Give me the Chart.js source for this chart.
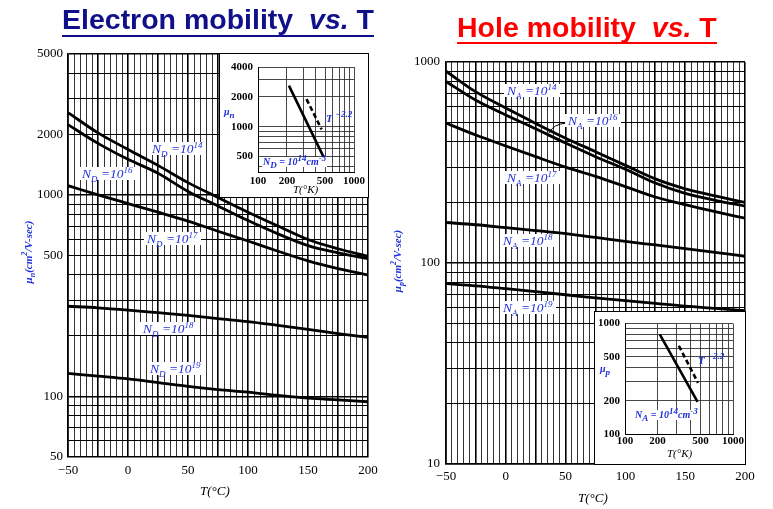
<!DOCTYPE html>
<html>
<head>
<meta charset="utf-8">
<script src="https://cdn.jsdelivr.net/npm/chart.js@4.4.1/dist/chart.umd.min.js"></script>
<style>
  html, body { margin: 0; padding: 0; background: #fff; }
  #page { position: relative; width: 773px; height: 509px; overflow: hidden; font-family: "Liberation Serif", "Times New Roman", serif; }
  canvas { position: absolute; }
  .title { position: absolute; font-family: "Liberation Sans", Arial, sans-serif; font-weight: bold; font-size: 28.5px; white-space: nowrap; }
  .title span.u { display: inline-block; line-height: 1; border-bottom: 2px solid currentColor; }
  .lbl { position: absolute; color: #1f2fd8; font-style: italic; font-size: 13.5px; line-height: 13px; background: #fff; white-space: nowrap; padding: 0 3px; }
  .lbl sub, .lbl sup, .txt sub, .txt sup { font-size: 9px; line-height: 0; }
  .txt { position: absolute; font-style: italic; white-space: nowrap; line-height: 1; }
  .inset { position: absolute; background: #fff; outline: 1px solid #000; }
  .inset canvas { left: 0; top: 0; }
  .rot { position: absolute; transform: translate(-50%, -50%) rotate(-90deg); white-space: nowrap; color: #1f2fd8; font-style: italic; font-weight: bold; font-size: 11px; line-height: 1; }
</style>
</head>
<body>
<div id="page">
  <canvas id="electron" width="386" height="509" style="left:0;top:0"></canvas>
  <canvas id="hole" width="387" height="509" style="left:386px;top:0"></canvas>

  <div class="inset" style="left:220px;top:54px;width:148px;height:143px"><canvas id="insetN" width="148" height="143"></canvas></div>
  <div class="inset" style="left:595px;top:312px;width:150px;height:152px"><canvas id="insetP" width="150" height="152"></canvas></div>

  <div class="title" style="left:62px;top:3px;color:#10108a"><span class="u" style="padding-bottom:1px">Electron mobility&nbsp; <i>vs.</i> T</span></div>
  <div class="title" style="left:457px;top:11px;color:#ff0000"><span class="u">Hole mobility&nbsp; <i>vs.</i> T</span></div>

  <!-- curve labels, electrons -->
  <div class="lbl" style="left:149px;top:142px"><i>N<sub>D</sub></i> =10<sup>14</sup></div>
  <div class="lbl" style="left:79px;top:167px"><i>N<sub>D</sub></i> =10<sup>16</sup></div>
  <div class="lbl" style="left:144px;top:232px"><i>N<sub>D</sub></i> =10<sup>17</sup></div>
  <div class="lbl" style="left:140px;top:322px"><i>N<sub>D</sub></i> =10<sup>18</sup></div>
  <div class="lbl" style="left:147px;top:362px"><i>N<sub>D</sub></i> =10<sup>19</sup></div>

  <!-- curve labels, holes -->
  <svg style="position:absolute;left:0;top:0" width="773" height="509"><path d="M549 133 Q553 124 567 123" stroke="#000" stroke-width="1" fill="none"/></svg>
  <div class="lbl" style="left:504px;top:84px"><i>N<sub>A</sub></i> =10<sup>14</sup></div>
  <div class="lbl" style="left:565px;top:114px"><i>N<sub>A</sub></i> =10<sup>16</sup></div>
  <div class="lbl" style="left:504px;top:171px"><i>N<sub>A</sub></i> =10<sup>17</sup></div>
  <div class="lbl" style="left:500px;top:234px"><i>N<sub>A</sub></i> =10<sup>18</sup></div>
  <div class="lbl" style="left:500px;top:301px"><i>N<sub>A</sub></i> =10<sup>19</sup></div>

  <!-- inset texts -->
  <div class="txt" style="left:224px;top:107px;color:#1f2fd8;font-size:10px;font-weight:bold">μ<sub>n</sub></div>
  <div class="txt" style="left:326px;top:113px;color:#1f2fd8;font-size:11px;font-weight:bold">T <sup>&minus;2.2</sup></div>
  <div class="txt" style="left:262px;top:157px;color:#1f2fd8;font-size:10px;font-weight:bold;background:#fff;padding:0 1px">N<sub>D</sub> = 10<sup>14</sup>cm<sup>-3</sup></div>
  <div class="txt" style="left:293px;top:184px;color:#000;font-size:11px">T(°K)</div>

  <div class="txt" style="left:600px;top:364px;color:#1f2fd8;font-size:10px;font-weight:bold">μ<sub>p</sub></div>
  <div class="txt" style="left:698px;top:355px;color:#1f2fd8;font-size:11px;font-weight:bold">T <sup>&minus;2.2</sup></div>
  <div class="txt" style="left:634px;top:410px;color:#1f2fd8;font-size:10px;font-weight:bold;background:#fff;padding:0 1px">N<sub>A</sub> = 10<sup>14</sup>cm<sup>-3</sup></div>
  <div class="txt" style="left:667px;top:448px;color:#000;font-size:11px">T(°K)</div>

  <!-- axis titles -->
  <div class="rot" style="left:29px;top:252px">μ<sub style="font-size:8px">n</sub>(cm<sup style="font-size:8px">2</sup>/V-sec)</div>
  <div class="rot" style="left:398px;top:261px">μ<sub style="font-size:8px">p</sub>(cm<sup style="font-size:8px">2</sup>/V-sec)</div>
  <div class="txt" style="left:200px;top:484px;font-size:13px">T(°C)</div>
  <div class="txt" style="left:578px;top:491px;font-size:13px">T(°C)</div>
</div>

<script>
// ---- values ----
const tempC = [-50, -25, 0, 25, 50, 75, 100, 125, 150, 175, 200];

// electron mobility (cm2/V-sec) for each donor concentration
const muN_ND14 = [2560, 2030, 1680, 1400, 1150, 970, 820, 700, 600, 540, 495];
const muN_ND16 = [2230, 1800, 1500, 1280, 1040, 880, 745, 640, 560, 515, 482];
const muN_ND17 = [1110, 1000, 905, 820, 740, 660, 590, 525, 470, 430, 400];
const muN_ND18 = [280, 275, 268, 260, 252, 243, 235, 225, 215, 205, 196];
const muN_ND19 = [130, 126, 122, 117, 112, 108, 105, 101, 98, 96, 94];

// hole mobility (cm2/V-sec) for each acceptor concentration
const muP_NA14 = [900, 710, 590, 495, 418, 358, 306, 262, 234, 216, 200];
const muP_NA16 = [800, 645, 545, 465, 395, 338, 293, 250, 222, 205, 192];
const muP_NA17 = [497, 433, 382, 338, 300, 270, 240, 213, 195, 180, 167];
const muP_NA18 = [159, 155, 150, 145, 140, 134, 128, 123, 118, 113, 108];
const muP_NA19 = [79, 77, 74.5, 72, 69.5, 67, 65, 63, 61, 59.5, 58];

// insets: mobility vs absolute temperature (K), N = 1e14
const insetN_T = [210, 480];
const insetN_mu = [2600, 500];
const insetN_dashT = [320, 460];
const insetN_dashMu = [1900, 940];
const insetP_T = [210, 470];
const insetP_mu = [800, 195];
const insetP_dashT = [315, 475];
const insetP_dashMu = [630, 290];

// tick labels
const xTickLabels = [-50, 0, 50, 100, 150, 200];
const electronYLabels = [50, 100, 500, 1000, 2000, 5000];
const holeYLabels = [10, 100, 1000];
const insetNYLabels = [500, 1000, 2000, 4000];
const insetPYLabels = [100, 200, 500, 1000];
const insetXLabels = [100, 200, 500, 1000];

// ---- helpers ----
function logGrid(min, max) {
  // graph-paper lines at 1..9 x 10^k
  const out = [];
  for (let e = Math.floor(Math.log10(min)); e <= Math.ceil(Math.log10(max)); e++) {
    for (let m = 1; m < 10; m++) {
      const v = Math.round(m * Math.pow(10, e));
      if (v >= min && v <= max) out.push(v);
    }
  }
  return out;
}

const xGrid = [];
for (let t = -50; t <= 200; t += 5) xGrid.push(t);

const fmt = v => (v < 0 ? '\u2212' + (-v) : String(v));
const isDecade = v => Math.abs(Math.log10(v) - Math.round(Math.log10(v))) < 1e-9;

function mainChart(id, o) {
  const yLabelSet = new Set(o.yLabels);
  const xLabelSet = new Set(xTickLabels);
  const yGrid = logGrid(o.yMin, o.yMax);
  return new Chart(document.getElementById(id), {
    type: 'line',
    data: {
      datasets: o.series.map(s => ({
        data: tempC.map((t, i) => ({ x: t, y: s[i] })),
        borderColor: '#000',
        borderWidth: 2.8,
        pointRadius: 0,
        cubicInterpolationMode: 'monotone',
        fill: false
      }))
    },
    options: {
      responsive: false,
      animation: false,
      events: [],
      layout: { padding: { left: 0, top: o.top, right: o.right, bottom: 0 } },
      plugins: { legend: { display: false }, tooltip: { enabled: false } },
      scales: {
        x: {
          type: 'linear', min: -50, max: 200,
          afterBuildTicks: s => { s.ticks = xGrid.map(v => ({ value: v })); },
          afterFit: s => { s.height = o.xHeight; },
          grid: {
            color: '#000', drawTicks: false,
            lineWidth: c => (c.tick && c.tick.value % 25 === 0 ? 1.6 : 0.8)
          },
          border: { color: '#000', width: 1.6 },
          ticks: {
            autoSkip: false, maxRotation: 0, minRotation: 0, padding: o.xPad, color: '#000',
            font: { family: 'Liberation Serif', size: 13 },
            callback: v => (xLabelSet.has(v) ? fmt(v) : '')
          }
        },
        y: {
          type: 'logarithmic', min: o.yMin, max: o.yMax,
          afterBuildTicks: s => { s.ticks = yGrid.map(v => ({ value: v })); },
          afterFit: s => { s.width = o.yWidth; },
          grid: {
            color: '#000', drawTicks: false,
            lineWidth: c => (c.tick && (isDecade(c.tick.value) || c.tick.value === o.yMax) ? 1.6 : 1.1)
          },
          border: { color: '#000', width: 1.6 },
          ticks: {
            autoSkip: false, padding: o.yPad, color: '#000',
            font: { family: 'Liberation Serif', size: 13 },
            callback: v => (yLabelSet.has(v) ? String(v) : '')
          }
        }
      }
    }
  });
}

function insetChart(id, o) {
  const yLabelSet = new Set(o.yLabels);
  const xLabelSet = new Set(insetXLabels);
  const yGrid = logGrid(o.yMin, o.yMax);
  const xGridK = logGrid(100, 1000);
  const line = (xs, ys, dash) => ({
    data: xs.map((x, i) => ({ x: x, y: ys[i] })),
    borderColor: '#000', borderWidth: 2.6, borderDash: dash, pointRadius: 0, fill: false
  });
  return new Chart(document.getElementById(id), {
    type: 'line',
    data: { datasets: [line(o.solidT, o.solidMu, []), line(o.dashT, o.dashMu, [5, 3])] },
    options: {
      responsive: false,
      animation: false,
      events: [],
      layout: { padding: { left: 0, top: o.top, right: o.right, bottom: 0 } },
      plugins: { legend: { display: false }, tooltip: { enabled: false } },
      scales: {
        x: {
          type: 'logarithmic', min: 100, max: 1000,
          afterBuildTicks: s => { s.ticks = xGridK.map(v => ({ value: v })); },
          afterFit: s => { s.height = o.xHeight; },
          grid: { color: '#333', lineWidth: 0.9, drawTicks: false },
          border: { color: '#000', width: 1 },
          ticks: {
            autoSkip: false, maxRotation: 0, minRotation: 0, padding: o.xPad, color: '#000',
            font: { family: 'Liberation Serif', size: 11, weight: 'bold' },
            callback: v => (xLabelSet.has(v) ? String(v) : '')
          }
        },
        y: {
          type: 'logarithmic', min: o.yMin, max: o.yMax,
          afterBuildTicks: s => { s.ticks = yGrid.map(v => ({ value: v })); },
          afterFit: s => { s.width = o.yWidth; },
          grid: { color: '#333', lineWidth: 0.9, drawTicks: false },
          border: { color: '#000', width: 1 },
          ticks: {
            autoSkip: false, padding: 5, color: '#000',
            font: { family: 'Liberation Serif', size: 11, weight: 'bold' },
            callback: v => (yLabelSet.has(v) ? String(v) : '')
          }
        }
      }
    }
  });
}

// ---- charts ----
mainChart('electron', {
  series: [muN_ND14, muN_ND16, muN_ND17, muN_ND18, muN_ND19],
  yMin: 50, yMax: 5000, yLabels: electronYLabels,
  top: 54, right: 18, xHeight: 52, yWidth: 68, xPad: 6, yPad: 5
});

mainChart('hole', {
  series: [muP_NA14, muP_NA16, muP_NA17, muP_NA18, muP_NA19],
  yMin: 10, yMax: 1000, yLabels: holeYLabels,
  top: 62, right: 28, xHeight: 45, yWidth: 60, xPad: 5, yPad: 6
});

insetChart('insetN', {
  solidT: insetN_T, solidMu: insetN_mu, dashT: insetN_dashT, dashMu: insetN_dashMu,
  yMin: 350, yMax: 4000, yLabels: insetNYLabels,
  top: 13, right: 12, xHeight: 25, yWidth: 38, xPad: 3
});

insetChart('insetP', {
  solidT: insetP_T, solidMu: insetP_mu, dashT: insetP_dashT, dashMu: insetP_dashMu,
  yMin: 100, yMax: 1000, yLabels: insetPYLabels,
  top: 8, right: 12, xHeight: 30, yWidth: 30, xPad: 1
});
</script>
</body>
</html>
